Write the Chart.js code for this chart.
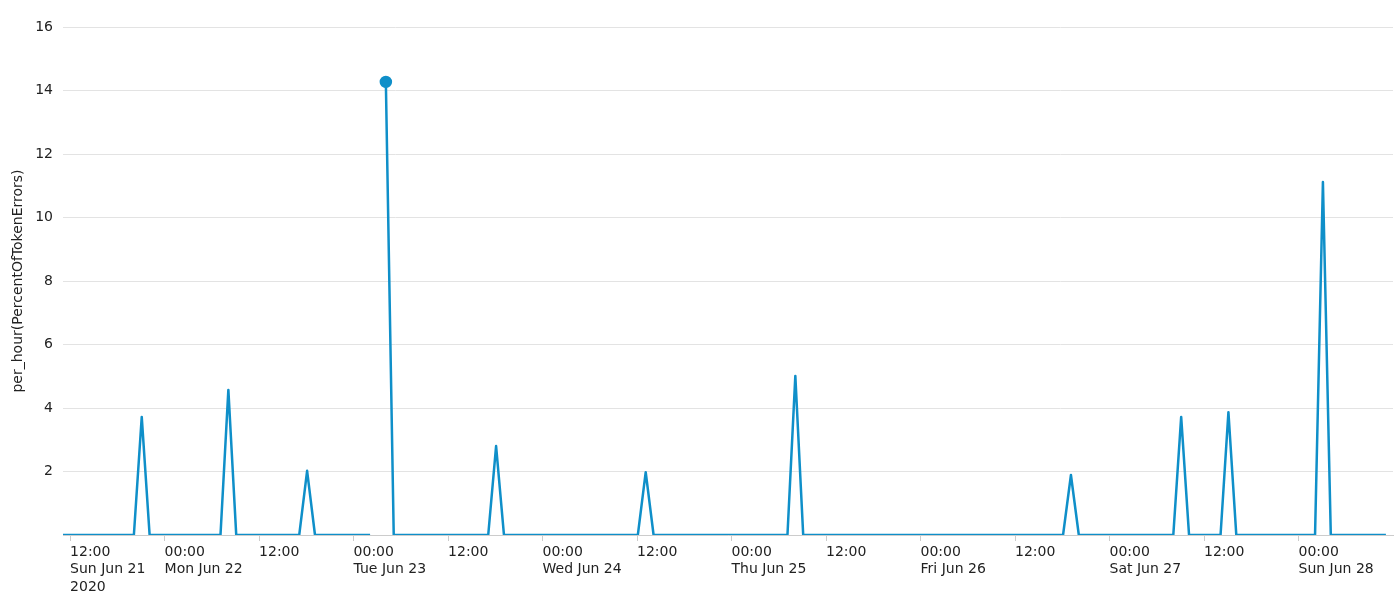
<!DOCTYPE html>
<html>
<head>
<meta charset="utf-8">
<title>per_hour(PercentOfTokenErrors)</title>
<script src="https://cdn.jsdelivr.net/npm/chart.js@4.4.1/dist/chart.umd.min.js"></script>
<style>
  html, body { margin: 0; padding: 0; background: #fff; }
  #wrap { width: 1400px; height: 603px; position: relative; }
</style>
</head>
<body>
<div id="wrap"><canvas id="lineChart"></canvas></div>
<script>
// hours since Sun Jun 21 2020 00:00 ; only the points where the line bends are listed
const hours = [11.1, 20.1, 21.1, 22.1, 31.1, 32.1, 33.1, 41.1, 42.1, 43.1,
               50.1, 51.1, 52.1, 53.1, 65.1, 66.1, 67.1, 84.1, 85.1, 86.1,
               103.1, 104.1, 105.1, 138.1, 139.1, 140.1, 152.1, 153.1, 154.1,
               158.1, 159.1, 160.1, 170.1, 171.1, 172.1, 179.1];
const values = [0, 0, 3.72, 0, 0, 4.57, 0, 0, 2.02, 0,
                0, null, 14.27, 0, 0, 2.8, 0, 0, 1.98, 0,
                0, 5.01, 0, 0, 1.89, 0, 0, 3.72, 0,
                0, 3.87, 0, 0, 11.12, 0, 0];

const tickHours = [12, 24, 36, 48, 60, 72, 84, 96, 108, 120, 132, 144, 156, 168];
const tickLabels = [
    ["12:00", "Sun Jun 21", "2020"], ["00:00", "Mon Jun 22"], ["12:00"],
    ["00:00", "Tue Jun 23"], ["12:00"], ["00:00", "Wed Jun 24"], ["12:00"],
    ["00:00", "Thu Jun 25"], ["12:00"], ["00:00", "Fri Jun 26"], ["12:00"],
    ["00:00", "Sat Jun 27"], ["12:00"], ["00:00", "Sun Jun 28"]
];

const yTicks = [0, 2, 4, 6, 8, 10, 12, 14, 16];

Chart.defaults.font.family = "'DejaVu Sans', sans-serif";
Chart.defaults.font.size = 14;
Chart.defaults.color = "#222";

const ctx = document.getElementById("lineChart").getContext("2d");

new Chart(ctx, {
    type: "line",
    data: {
        datasets: [
            {
                label: "per_hour(PercentOfTokenErrors)",
                data: hours.map((h, i) => ({ x: h, y: values[i] })),
                borderColor: "#0f8fc9",
                backgroundColor: "#0f8fc9",
                borderWidth: 2.5,
                borderJoinStyle: "round",
                tension: 0,
                spanGaps: false,
                pointRadius: function (c) {
                    const i = c.dataIndex;
                    return (i > 0 && values[i - 1] === null) ? 5 : 0;
                },
                pointHoverRadius: 5
            }
        ]
    },
    options: {
        responsive: true,
        maintainAspectRatio: false,
        animation: false,
        layout: {
            padding: { top: 27, right: 7, left: 0, bottom: 0 }
        },
        plugins: {
            legend: { display: false },
            tooltip: { enabled: false }
        },
        scales: {
            x: {
                type: "linear",
                min: 11.1,
                max: 180,
                afterBuildTicks: function (axis) {
                    axis.ticks = tickHours.map(v => ({ value: v }));
                },
                afterFit: function (axis) {
                    axis.height = 68;
                },
                grid: {
                    drawOnChartArea: false,
                    drawTicks: true,
                    tickLength: 6,
                    color: "#cccccc"
                },
                border: { color: "#cccccc" },
                ticks: {
                    autoSkip: false,
                    maxRotation: 0,
                    align: "start",
                    padding: 2,
                    font: { size: 14, lineHeight: 1.27 },
                    callback: function (value) {
                        const i = tickHours.indexOf(value);
                        return i >= 0 ? tickLabels[i] : "";
                    }
                }
            },
            y: {
                min: 0,
                max: 16,
                afterBuildTicks: function (axis) {
                    axis.ticks = yTicks.map(v => ({ value: v }));
                },
                afterFit: function (axis) {
                    axis.width = 63;
                },
                grid: {
                    color: "#e3e3e3",
                    drawTicks: false
                },
                border: { display: false },
                ticks: {
                    padding: 10,
                    callback: function (value) {
                        return value === 0 ? "" : value;
                    }
                },
                title: {
                    display: true,
                    text: "per_hour(PercentOfTokenErrors)",
                    color: "#222",
                    font: { size: 14 },
                    padding: { top: 10, bottom: 0 }
                }
            }
        }
    }
});
</script>
</body>
</html>
